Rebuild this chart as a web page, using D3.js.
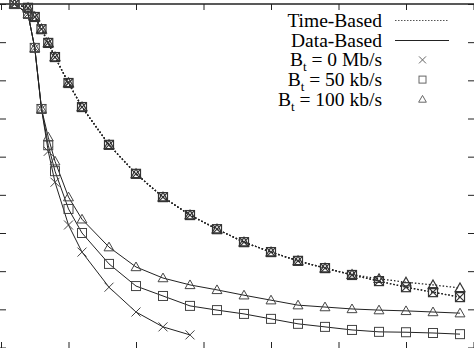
<!DOCTYPE html>
<html><head><meta charset="utf-8">
<script src="https://cdn.jsdelivr.net/npm/d3@7"></script>
<style>html,body{margin:0;padding:0;background:#fff;overflow:hidden}</style>
</head><body>
<script>
// x values (arbitrary units; ticks every 50)
const xs = [10,20,25,30,35,40,50,60,80,100,120,140,160,180,200,220,240,260,280,300,320,340];
const xTicks = [0,50,100,150,200,250,300,350];
const yTicks = [0,100,200,300,400,500,600,700,800,900];

// Time-Based (dotted)
const timeB0   = [900,890,866,834,798,761,693,630,531,455,394,347,310,276,250,227,208,190,174,158,145,132];
const timeB50  = [900,890,866,834,798,761,693,630,531,455,394,347,310,276,250,227,208,190,174,158,145,132];
const timeB100 = [900,890,866,834,798,761,693,630,531,455,394,347,310,276,250,227,208,191,180,171,164,156];

// Data-Based (solid)
const dataB0   = [900,874,785,625,514,433,321,250,158,93,54,33];
const dataB50  = [900,874,785,625,530,462,363,300,219,161,135,109,98,88,75,62,54,46,41,40,38,35];
const dataB100 = [900,874,785,625,551,488,394,336,263,211,182,164,151,137,124,111,106,101,98,96,93,90];

const legendLabels = ["Time-Based","Data-Based"];
const legendB = [["0 Mb/s","cross"],["50 kb/s","square"],["100 kb/s","triangle"]];

const W = 474, H = 348;
const svg = d3.select("body").append("svg").attr("width",W).attr("height",H);

const x = d3.scaleLinear().domain([0,350]).range([1,473.5]);
const y = d3.scaleLinear().domain([0,900]).range([347.5,4]);

const axCol = "#222";
function styleAxis(g){
  g.select(".domain").remove();
  g.selectAll(".tick line").attr("stroke",axCol);
  g.selectAll(".tick text").remove();
}
svg.append("g").attr("transform","translate(0,4)").call(d3.axisTop(x).tickValues(xTicks).tickSize(-6).tickFormat("")).call(styleAxis);
svg.append("g").attr("transform","translate(0,348)").call(d3.axisBottom(x).tickValues(xTicks).tickSize(-6).tickFormat("")).call(styleAxis);
svg.append("g").attr("transform","translate(0,0)").call(d3.axisLeft(y).tickValues(yTicks).tickSize(-6).tickFormat("")).call(styleAxis);
svg.append("g").attr("transform","translate(474,0)").call(d3.axisRight(y).tickValues(yTicks).tickSize(-6).tickFormat("")).call(styleAxis);
// top frame line
svg.append("line").attr("x1",0).attr("x2",W).attr("y1",4).attr("y2",4).attr("stroke",axCol).attr("stroke-width",1.3);

const line = d3.line().x((d,i)=>x(xs[i])).y(d=>y(d));

function drawLine(vals, dashed){
  svg.append("path").datum(vals).attr("d",line).attr("fill","none")
    .attr("stroke","#222").attr("stroke-width", dashed?1.3:1)
    .attr("stroke-dasharray", dashed?"1.5,2":null);
}
function marker(g, type, cx, cy, s, col, sw){
  sw = sw||1;
  if(type==="cross"){
    const h=s/2;
    g.append("path").attr("d",`M${cx-h},${cy-h}L${cx+h},${cy+h}M${cx-h},${cy+h}L${cx+h},${cy-h}`)
      .attr("stroke",col).attr("stroke-width",sw).attr("fill","none");
  } else if(type==="square"){
    g.append("rect").attr("x",cx-s/2).attr("y",cy-s/2).attr("width",s).attr("height",s)
      .attr("stroke",col).attr("stroke-width",sw).attr("fill","none");
  } else {
    const h=s*0.55;
    g.append("path").attr("d",`M${cx},${cy-h}L${cx+h},${cy+h*0.75}L${cx-h},${cy+h*0.75}Z`)
      .attr("stroke",col).attr("stroke-width",sw).attr("fill","none");
  }
}
function drawMarkers(vals, type, col, sw){
  const g = svg.append("g");
  vals.forEach((v,i)=>marker(g,type,x(xs[i]),y(v),9,col,sw));
}

drawLine(timeB0,true); drawLine(timeB50,true); drawLine(timeB100,true);
drawLine(dataB0,false); drawLine(dataB50,false); drawLine(dataB100,false);

const mc = "#444";
drawMarkers(timeB0,"cross","#333",1.2); drawMarkers(timeB50,"square","#333",1.2); drawMarkers(timeB100,"triangle","#333",1.2);
drawMarkers(dataB0,"cross",mc); drawMarkers(dataB50,"square",mc); drawMarkers(dataB100,"triangle",mc);

// legend
const lg = svg.append("g").attr("font-family","'Liberation Serif','Times New Roman',serif").attr("font-size",19.5).attr("fill","#000");
const tx = 382, base0 = 27, step = 19.7;
legendLabels.forEach((t,i)=>{
  lg.append("text").attr("x",tx).attr("y",base0+i*step).attr("text-anchor","end").text(t);
});
lg.append("line").attr("x1",395).attr("x2",449).attr("y1",20.5).attr("y2",20.5).attr("stroke","#555").attr("stroke-width",1).attr("stroke-dasharray","1.5,1.5");
lg.append("line").attr("x1",395).attr("x2",449).attr("y1",40.5).attr("y2",40.5).attr("stroke","#222").attr("stroke-width",1);
legendB.forEach((d,i)=>{
  const by = base0+(i+2)*step;
  const t = lg.append("text").attr("x",tx).attr("y",by).attr("text-anchor","end");
  t.append("tspan").text("B");
  t.append("tspan").attr("dy",5).attr("font-size",13).text("t");
  t.append("tspan").attr("dy",-5).text(" = "+d[0]);
  marker(lg, d[1], 422.5, by-6.5, 7, "#666");
});
</script>
</body></html>
